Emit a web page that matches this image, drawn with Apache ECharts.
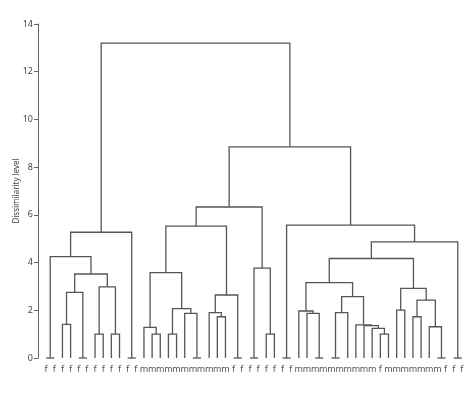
<!DOCTYPE html>
<html><head><meta charset="utf-8">
<script src="https://cdn.jsdelivr.net/npm/echarts@6/dist/echarts.min.js"></script>
<style>html,body{margin:0;padding:0;background:#fff}#c{width:474px;height:395px}</style>
</head><body><div id="c"></div>
<script>
// leaf labels (sex) in dendrogram order
const leafLabels = [
  'f','f','f','f','f','f','f','f','f','f','f','f',
  'm','m','m','m','m','m','m','m','m','m','m',
  'f','f','f','f','f','f','f','f',
  'm','m','m','m','m','m','m','m','m','m',
  'f',
  'm','m','m','m','m','m','m',
  'f','f','f'
];
// merges: [childA, childB, dissimilarity]; ids < 52 are leaves, id 52+k is merge k
const merges = [
  [0,1,0],[2,3,1.41],[4,5,0],[53,54,2.75],[6,7,1.0],[8,9,1.0],[56,57,2.98],[55,58,3.52],
  [52,59,4.25],[10,11,0],[60,61,5.27],
  [13,14,1.0],[12,63,1.28],[15,16,1.0],[18,19,0],[17,66,1.87],[65,67,2.07],[64,68,3.58],
  [21,22,1.73],[20,70,1.9],[23,24,0],[71,72,2.64],[69,73,5.53],
  [25,26,0],[27,28,1.0],[75,76,3.77],[74,77,6.33],
  [29,30,0],[33,34,0],[32,80,1.87],[31,81,1.97],[35,36,0],[83,37,1.9],
  [41,42,1.0],[40,85,1.24],[39,86,1.36],[38,87,1.39],[84,88,2.57],[82,89,3.16],
  [43,44,2.01],[45,46,1.73],[48,49,0],[47,93,1.31],[92,94,2.43],[91,95,2.92],
  [90,96,4.17],[50,51,0],[97,98,4.87],[79,99,5.57],[78,100,8.85],[62,101,13.2]
];
const yMin = 0, yMax = 14, yStep = 2;

const n = leafLabels.length;
const px = [], ph = [];
for (let i = 0; i < n; i++) { px[i] = i; ph[i] = 0; }
const links = merges.map((m, k) => {
  const a = m[0], b = m[1], h = m[2];
  const id = n + k;
  px[id] = (px[a] + px[b]) / 2; ph[id] = h;
  return [px[a], ph[a], px[b], ph[b], h];
});

const chart = echarts.init(document.getElementById('c'), null, {renderer: 'canvas'});
chart.setOption({
  animation: false,
  backgroundColor: '#fff',
  grid: {left: 38, top: 24, width: 432, height: 334, containLabel: false, outerBoundsMode: 'none'},
  xAxis: {
    type: 'value', min: -1, max: n, interval: 1,
    axisLine: {show: false, onZero: false}, axisTick: {show: false}, splitLine: {show: false},
    axisLabel: {
      margin: 7, fontSize: 9, color: '#555', fontFamily: 'Noto Sans',
      showMinLabel: true, showMaxLabel: true,
      formatter: v => (Number.isInteger(v) && leafLabels[v]) ? leafLabels[v] : ''
    }
  },
  yAxis: {
    type: 'value', min: yMin, max: yMax, interval: yStep,
    name: 'Dissimilarity level', nameLocation: 'middle', nameGap: 17, nameRotate: 90,
    nameMoveOverlap: false,
    nameTextStyle: {fontSize: 8, color: '#444', fontFamily: 'Noto Sans'},
    axisLine: {show: true, onZero: false, lineStyle: {color: '#666', width: 1}},
    axisTick: {show: true, inside: false, length: 4, lineStyle: {color: '#666'}},
    splitLine: {show: false},
    axisLabel: {fontSize: 9, color: '#444', margin: 5, fontFamily: 'Noto Sans'}
  },
  series: [{
    type: 'custom',
    data: links,
    encode: {x: [0, 2], y: [1, 3, 4]},
    renderItem: function (params, api) {
      const p1 = api.coord([api.value(0), api.value(1)]);
      const p2 = api.coord([api.value(0), api.value(4)]);
      const p3 = api.coord([api.value(2), api.value(4)]);
      const p4 = api.coord([api.value(2), api.value(3)]);
      return {
        type: 'polyline',
        shape: {points: [p1, p2, p3, p4]},
        style: {stroke: '#555', lineWidth: 1.3, fill: null}
      };
    }
  }]
});
</script></body></html>
